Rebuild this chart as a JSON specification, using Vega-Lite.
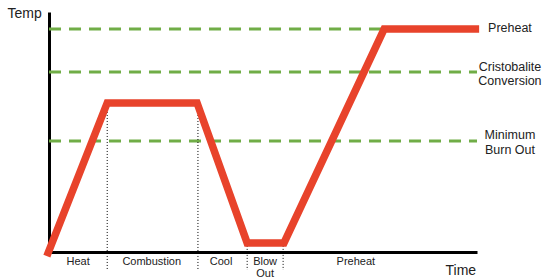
{
  "$schema": "https://vega.github.io/schema/vega-lite/v6.json",
  "width": 428,
  "height": 240,
  "autosize": "none",
  "padding": {"left": 49, "top": 12, "right": 66, "bottom": 28},
  "background": "white",
  "config": {"view": {"stroke": null}, "font": "Liberation Sans"},
  "datasets": {
    "profile": [
      {"step": 1, "time": -0.5, "temp": -1.7},
      {"step": 2, "time": 13.6, "temp": 62.1},
      {"step": 3, "time": 34.6, "temp": 62.1},
      {"step": 4, "time": 46.3, "temp": 3.8},
      {"step": 5, "time": 54.9, "temp": 3.8},
      {"step": 6, "time": 78.3, "temp": 92.9},
      {"step": 7, "time": 100.5, "temp": 92.9}
    ],
    "levels": [
      {"name": "Preheat", "temp": 92.9, "labelTemp": 93.3, "label": ["Preheat"]},
      {"name": "Cristobalite Conversion", "temp": 75.0, "labelTemp": 77.1, "label": ["Cristobalite", "Conversion"]},
      {"name": "Minimum Burn Out", "temp": 46.25, "labelTemp": 48.75, "label": ["Minimum", "Burn Out"]}
    ],
    "dividers": [
      {"time": 13.6, "top": 62.1},
      {"time": 34.8, "top": 62.1},
      {"time": 46.3, "top": 3.8},
      {"time": 54.7, "top": 3.8}
    ],
    "phases": [
      {"phase": ["Heat"], "mid": 6.8},
      {"phase": ["Combustion"], "mid": 24.0},
      {"phase": ["Cool"], "mid": 40.2},
      {"phase": ["Blow", "Out"], "mid": 50.5},
      {"phase": ["Preheat"], "mid": 71.7}
    ]
  },
  "layer": [
    {
      "data": {"name": "levels"},
      "mark": {"type": "rule", "color": "#70ad47", "strokeWidth": 3, "strokeDash": [12, 8]},
      "encoding": {
        "y": {
          "field": "temp", "type": "quantitative",
          "scale": {"domain": [0, 100], "nice": false, "zero": false},
          "axis": {
            "domainColor": "black", "domainWidth": 3, "ticks": false, "labels": false, "grid": false,
            "title": "Temp", "titleAngle": 0, "titleFontSize": 14, "titleFontWeight": "normal",
            "titleColor": "#222", "titleX": -42, "titleY": 1, "titleAlign": "left", "titleBaseline": "middle"
          }
        },
        "x": {"datum": 0, "type": "quantitative"},
        "x2": {"datum": 100}
      }
    },
    {
      "data": {"name": "dividers"},
      "mark": {"type": "rule", "color": "black", "strokeWidth": 1, "strokeDash": [1, 2], "clip": false},
      "encoding": {
        "x": {
          "field": "time", "type": "quantitative",
          "scale": {"domain": [0, 100], "nice": false, "zero": false},
          "axis": {
            "domainColor": "black", "domainWidth": 3, "ticks": false, "labels": false, "grid": false,
            "title": "Time", "titleFontSize": 14, "titleFontWeight": "normal", "titleColor": "#222",
            "titleX": 396, "titleY": 18, "titleAlign": "left", "titleBaseline": "middle"
          }
        },
        "y": {"field": "top", "type": "quantitative"},
        "y2": {"datum": -7.5}
      }
    },
    {
      "data": {"name": "profile"},
      "mark": {"type": "line", "color": "#e8432b", "strokeWidth": 7.5, "strokeJoin": "miter", "clip": false},
      "encoding": {
        "x": {"field": "time", "type": "quantitative"},
        "y": {"field": "temp", "type": "quantitative"},
        "order": {"field": "step"}
      }
    },
    {
      "data": {"name": "phases"},
      "mark": {"type": "text", "fontSize": 11, "color": "#222", "align": "center", "baseline": "top", "lineHeight": 12},
      "encoding": {
        "x": {"field": "mid", "type": "quantitative"},
        "y": {"datum": -1.7, "type": "quantitative"},
        "text": {"field": "phase"}
      }
    },
    {
      "data": {"name": "levels"},
      "mark": {"type": "text", "fontSize": 12.5, "color": "#222", "align": "center", "baseline": "middle", "lineHeight": 14.5},
      "encoding": {
        "x": {"datum": 107.7, "type": "quantitative"},
        "y": {"field": "labelTemp", "type": "quantitative"},
        "text": {"field": "label"}
      }
    }
  ]
}
